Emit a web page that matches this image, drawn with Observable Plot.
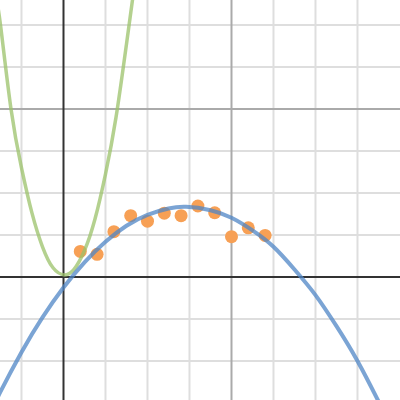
<!DOCTYPE html>
<html>
<head>
<meta charset="utf-8">
<script src="https://cdn.jsdelivr.net/npm/d3@7"></script>
<script src="https://cdn.jsdelivr.net/npm/@observablehq/plot@0.6"></script>
<style>
  html, body { margin: 0; padding: 0; background: #fff; }
  #chart { width: 400px; height: 400px; overflow: hidden; }
</style>
</head>
<body>
<div id="chart"></div>
<script>
// Scatter data
const pointX = [0.4, 0.8, 1.2, 1.6, 2.0, 2.4, 2.8, 3.2, 3.6, 4.0, 4.4, 4.8];
const pointY = [0.61, 0.54, 1.08, 1.46, 1.33, 1.52, 1.46, 1.69, 1.53, 0.96, 1.17, 0.99];

// Blue curve, points read along it
const blueX = [-1.6, -1.5, -1.0, -0.5, 0, 0.5, 1.0, 1.5, 2.0, 2.5, 2.92, 3.5, 4.0, 4.5, 5.0, 5.5, 6.0, 6.5, 7.0, 7.5, 7.6];
const blueY = [-2.96, -2.73, -1.79, -0.96, -0.25, 0.35, 0.84, 1.22, 1.48, 1.63, 1.67, 1.59, 1.41, 1.11, 0.72, 0.18, -0.43, -1.17, -2.0, -2.96, -3.16];

// Green curve, points read along it
const greenX = [-1.6, -1.5, -1.25, -1.0, -0.75, -0.5, -0.25, 0.02, 0.25, 0.5, 0.75, 1.0, 1.25, 1.5, 1.65, 1.75];
const greenY = [6.6, 6.0, 4.0, 2.6, 1.52, 0.72, 0.22, 0.05, 0.18, 0.63, 1.38, 2.45, 3.8, 5.55, 6.65, 7.5];

// Grid tick values
const minorX = [-1, 1, 2, 3, 5, 6, 7];
const majorX = [4];
const minorY = [-2, -1, 1, 2, 3, 5, 6];
const majorY = [4];

const pts = pointX.map((x, i) => ({x, y: pointY[i]}));
const blue = blueX.map((x, i) => ({x, y: blueY[i]}));
const green = greenX.map((x, i) => ({x, y: greenY[i]}));

const chart = Plot.plot({
  width: 400,
  height: 400,
  margin: 0,
  style: {background: "#fff"},
  x: {domain: [-1.5, 8.024], axis: null},
  y: {domain: [-2.94, 6.583], axis: null},
  marks: [
    Plot.ruleX(minorX, {stroke: "#dedede", strokeWidth: 2}),
    Plot.ruleY(minorY, {stroke: "#dedede", strokeWidth: 2}),
    Plot.ruleX(majorX, {stroke: "#aaaaaa", strokeWidth: 2}),
    Plot.ruleY(majorY, {stroke: "#aaaaaa", strokeWidth: 2}),
    Plot.ruleX([0], {stroke: "#333333", strokeWidth: 2}),
    Plot.ruleY([0], {stroke: "#333333", strokeWidth: 2}),
    Plot.dot(pts, {x: "x", y: "y", r: 6.5, fill: "#f7a055", stroke: "none"}),
    Plot.line(green, {x: "x", y: "y", stroke: "#9bc26a", strokeWidth: 3.5, strokeOpacity: 0.75, curve: "natural", clip: true}),
    Plot.line(blue, {x: "x", y: "y", stroke: "#4f86c6", strokeWidth: 4, strokeOpacity: 0.75, curve: "natural", clip: true})
  ]
});
document.getElementById("chart").appendChild(chart);
</script>
</body>
</html>
